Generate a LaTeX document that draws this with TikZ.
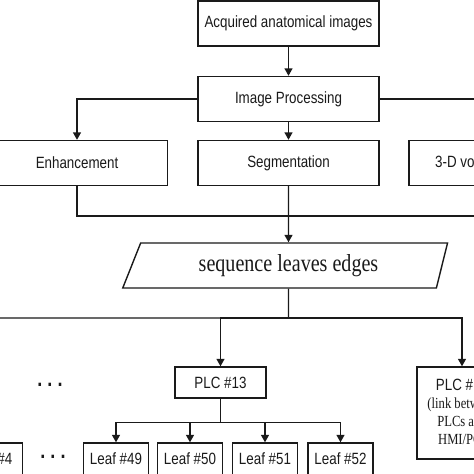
\documentclass[tikz,border=0pt]{standalone}
\usepackage{fontspec}
\usepackage{tikz}
\usetikzlibrary{arrows.meta,shapes.geometric}
\newfontfamily\arialc[FakeStretch=0.82]{Liberation Sans}
\newfontfamily\timesc[FakeStretch=0.82]{Liberation Serif}
\newcommand\notefont{\timesc\fontsize{15.4}{16.5}\selectfont}
\definecolor{ink}{HTML}{1A1A1A}

\begin{document}
\begin{tikzpicture}[x=1pt,y=-1pt,
    box/.style={draw=ink, line width=1.4pt, minimum width=181pt, minimum height=45pt,
                inner sep=0pt, text=ink, font=\arialc\fontsize{16.3}{18}\selectfont},
    leafbox/.style={box, minimum width=65pt, minimum height=32pt},
    dotrow/.style={text=ink, font=\arialc\fontsize{22}{24}\selectfont\bfseries},
    arr/.style={draw=ink, line width=1.4pt, -{Triangle[length=7.5pt,width=8pt]}},
    wire/.style={draw=ink, line width=1.4pt}]
  \fill[white] (0,0) rectangle (474,474);
  \useasboundingbox (0,0) rectangle (474,474);
  \clip (0,0) rectangle (474,474);

  \node[box] (acq) at (288.5,23.5) {Acquired anatomical images};
  \node[box] (proc) at (288.5,99) {Image Processing};
  \node[box] (enh) at (77,163) {Enhancement};
  \node[box] (seg) at (288.5,163) {Segmentation};
  \node[box] (vol) at (499.5,163) {3-D volume rendering};
  \node[draw=ink, line width=1.4pt, trapezium, trapezium left angle=64, trapezium right angle=107,
        trapezium stretches=true, minimum width=325pt, minimum height=45pt, inner sep=0pt,
        text=ink, font=\timesc\fontsize{24.5}{28}\selectfont] (seq) at (288.5,265.5) {sequence leaves edges};
  \node[box, minimum width=91pt, minimum height=31pt] (plc13) at (220.5,382.5) {PLC \#13};
  \node[box, minimum width=90pt, minimum height=92pt, align=center] (plc14) at (462,413)
    {PLC \#14\\ \notefont (link between\\ \notefont PLCs and\\ \notefont HMI/PC)};
  \node[leafbox] (leaf4) at (-10,459) {Leaf \#4};
  \foreach \n/\x in {49/116,50/190,51/265,52/340.5}
    \node[leafbox] (leaf\n) at (\x,459) {Leaf \#\n};
  \node[dotrow] (dotsa) at (50,385) {.\hspace{5pt}.\hspace{5pt}.};
  \node[dotrow] (dotsb) at (53,457) {.\hspace{5pt}.\hspace{5pt}.};

  \coordinate (joinup) at (288.5,216);
  \coordinate (joindn) at (288.5,318);
  \coordinate (busw) at (-20,318);
  \draw[arr] (acq) -- (proc);
  \draw[arr] (proc) -- (seg);
  \draw[arr] (proc.west) -| (enh.north);
  \draw[arr] (proc.east) -| (vol.north);
  \draw[wire] (enh.south) |- (joinup) -| (vol.south);
  \draw[arr] (seg.south) -- (seq.north);
  \draw[wire] (seq.south) -- (joindn) -- (busw);
  \draw[arr] (joindn) -| (plc13.north);
  \draw[arr] (joindn) -| (plc14.north);
  \foreach \n in {49,50,51,52}
    \draw[arr] (plc13.south) -- ++(0,24) -| (leaf\n.north);
\end{tikzpicture}
\end{document}
